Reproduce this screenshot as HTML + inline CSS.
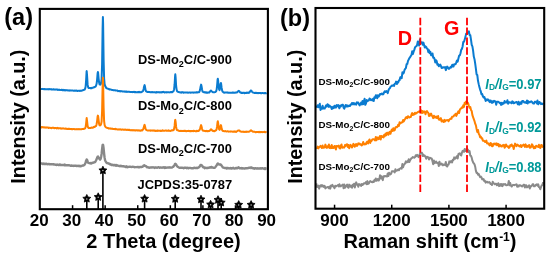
<!DOCTYPE html>
<html><head><meta charset="utf-8"><style>
html,body{margin:0;padding:0;background:#fff;width:550px;height:255px;overflow:hidden}
svg{display:block}
</style></head><body>
<svg width="550" height="255" viewBox="0 0 550 255" font-family="'Liberation Sans', Arial, sans-serif" font-weight="bold">
<rect width="550" height="255" fill="#fff"/>
<polyline points="40.6,88.92 41.1,88.99 41.6,88.93 42.1,88.87 42.6,88.96 43.1,88.9 43.6,89.08 44.1,89.3 44.6,89.05 45.1,89.06 45.6,89.25 46.1,89.25 46.6,89.24 47.1,89.11 47.6,89.27 48.1,89.4 48.6,89.12 49.1,89.28 49.6,89.09 50.1,89.21 50.6,89.15 51.1,89.41 51.6,89.28 52.1,89.54 52.6,89.55 53.1,89.52 53.6,89.19 54.1,89.52 54.6,89.61 55.1,89.66 55.6,89.44 56.1,89.62 56.6,89.57 57.1,89.62 57.6,89.93 58.1,89.67 58.6,89.81 59.1,89.97 59.6,89.78 60.1,89.87 60.6,89.93 61.1,89.95 61.6,89.78 62.1,90 62.6,90.22 63.1,89.82 63.6,90.21 64.1,90.12 64.6,90.04 65.1,90.47 65.6,90.31 66.1,90.05 66.6,90.27 67.1,90.38 67.6,90.29 68.1,90.45 68.6,90.37 69.1,90.51 69.6,90.66 70.1,90.37 70.6,90.53 71.1,90.46 71.6,90.57 72.1,90.4 72.6,90.52 73.1,90.6 73.6,90.78 74.1,90.84 74.6,90.49 75.1,90.59 75.6,90.82 76.1,90.44 76.6,90.68 77.1,90.75 77.6,90.96 78.1,90.88 78.6,90.73 79.1,90.72 79.6,90.74 80.1,91 80.6,90.69 81.1,90.69 81.6,90.73 82.1,90.56 82.6,90.41 83.1,90.1 83.6,90.05 84.1,89.73 84.6,89.59 85.1,88.82 85.6,86.72 86.1,80.55 86.6,71.41 86.7,71.15 87.1,76.19 87.6,84.4 88.1,87.09 88.6,88.04 89.1,87.93 89.6,87.93 90.1,88.17 90.6,88.03 91.1,88.11 91.6,88.32 92.1,87.75 92.6,87.66 93.1,87.64 93.6,87.51 94.1,87.23 94.6,87.01 95.1,86.88 95.6,86.48 96.1,85.53 96.6,83.82 97.1,79.61 97.6,73.5 97.9,71.98 98.1,72.54 98.6,78.24 99.1,82.6 99.6,84.45 100.1,84.68 100.6,84.34 101.1,82.84 101.6,79.07 102.1,64.23 102.6,29.33 102.9,17 103.1,22.96 103.6,59.26 104.1,78.34 104.6,84.09 105.1,85.89 105.6,86.66 106.1,87.74 106.6,88.24 107.1,88.36 107.6,88.6 108.1,88.84 108.6,88.91 109.1,89.39 109.6,89.29 110.1,89.49 110.6,89.5 111.1,89.63 111.6,89.63 112.1,90.1 112.6,89.97 113.1,90.22 113.6,90.15 114.1,90.13 114.6,90.26 115.1,90.31 115.6,90.48 116.1,90.52 116.6,90.62 117.1,90.56 117.6,90.73 118.1,91.19 118.6,90.93 119.1,90.95 119.6,91.23 120.1,91.45 120.6,91.08 121.1,91.32 121.6,91.3 122.1,91.18 122.6,91.59 123.1,91.52 123.6,91.57 124.1,91.48 124.6,91.7 125.1,91.58 125.6,91.66 126.1,91.55 126.6,91.56 127.1,91.97 127.6,91.72 128.1,91.86 128.6,91.84 129.1,91.8 129.6,91.81 130.1,92 130.6,91.88 131.1,91.92 131.6,91.97 132.1,92.16 132.6,92.1 133.1,92.07 133.6,91.94 134.1,91.83 134.6,92.18 135.1,92.2 135.6,92.04 136.1,92.15 136.6,92.19 137.1,92.2 137.6,92.22 138.1,92.01 138.6,92.3 139.1,91.89 139.6,92.19 140.1,92.12 140.6,92.15 141.1,92.27 141.6,92.14 142.1,91.64 142.6,91.31 143.1,91.01 143.6,89.06 144.1,86.5 144.5,85.36 144.6,85.08 145.1,87.32 145.6,90.1 146.1,91.29 146.6,91.7 147.1,91.93 147.6,91.89 148.1,91.86 148.6,92.1 149.1,92.02 149.6,91.94 150.1,92.28 150.6,92.21 151.1,92.29 151.6,92.1 152.1,92.15 152.6,92.11 153.1,92.13 153.6,92.3 154.1,92.16 154.6,92.34 155.1,92.34 155.6,92.6 156.1,92.09 156.6,92.43 157.1,92.29 157.6,92.3 158.1,92.09 158.6,92.24 159.1,92.42 159.6,92.3 160.1,92.33 160.6,92.27 161.1,92.49 161.6,92.31 162.1,91.99 162.6,92.21 163.1,92.02 163.6,91.83 164.1,92.24 164.6,92.52 165.1,92.32 165.6,92.14 166.1,92.17 166.6,92.48 167.1,92.33 167.6,92.31 168.1,92.28 168.6,92.29 169.1,92.39 169.6,92.34 170.1,92.27 170.6,92.05 171.1,92.24 171.6,92 172.1,92.17 172.6,91.67 173.1,91.59 173.6,91.08 174.1,89.21 174.6,84.47 175.1,76.02 175.3,74.36 175.6,77.4 176.1,85.72 176.6,89.57 177.1,91.31 177.6,91.71 178.1,91.97 178.6,91.94 179.1,92.15 179.6,92.23 180.1,92.48 180.6,92.39 181.1,92.37 181.6,92.62 182.1,92.33 182.6,92.37 183.1,92.17 183.6,92.69 184.1,92.62 184.6,92.62 185.1,92.59 185.6,92.51 186.1,92.54 186.6,92.48 187.1,92.49 187.6,92.53 188.1,92.76 188.6,92.62 189.1,92.53 189.6,92.45 190.1,92.45 190.6,92.79 191.1,92.62 191.6,92.56 192.1,92.5 192.6,92.38 193.1,92.54 193.6,92.67 194.1,92.48 194.6,92.5 195.1,92.49 195.6,92.53 196.1,92.26 196.6,92.44 197.1,92.31 197.6,92.53 198.1,92.21 198.6,92.29 199.1,92.19 199.6,91.28 200.1,89.6 200.6,86.74 201.1,84.62 201.6,86.56 202.1,89.76 202.6,91.64 203.1,91.93 203.6,92.18 204.1,92.17 204.6,92.45 205.1,92.26 205.6,92.31 206.1,92.68 206.6,92.36 207.1,92.66 207.6,92.72 208.1,92.51 208.6,92.52 209.1,92.63 209.6,92.06 210.1,91.48 210.6,90.66 211,90.57 211.1,90.8 211.6,91.27 212.1,91.63 212.6,92.01 213.1,92.21 213.6,92.36 214.1,92.26 214.6,92.25 215.1,92.13 215.6,91.81 216.1,91.34 216.6,89.8 217.1,85.5 217.6,79.47 217.8,78.72 218.1,80.43 218.6,86.38 219.1,89.42 219.6,90.13 220.1,87.77 220.6,83.88 220.9,82.98 221.1,83.63 221.6,87.7 222.1,90.39 222.6,91.69 223.1,92.02 223.6,92.4 224.1,92.75 224.6,92.52 225.1,92.42 225.6,92.4 226.1,92.6 226.6,92.6 227.1,92.48 227.6,92.68 228.1,92.51 228.6,92.86 229.1,92.86 229.6,92.87 230.1,92.65 230.6,92.8 231.1,92.71 231.6,92.68 232.1,92.69 232.6,92.55 233.1,92.53 233.6,92.86 234.1,92.71 234.6,92.76 235.1,92.87 235.6,92.43 236.1,92.53 236.6,92.57 237.1,92.35 237.6,91.77 238.1,91.35 238.6,90.87 239.1,91.02 239.6,91.71 240.1,92.44 240.6,92.65 241.1,92.41 241.6,92.95 242.1,92.87 242.6,93.01 243.1,92.76 243.6,92.79 244.1,92.67 244.6,93.23 245.1,92.83 245.6,93.09 246.1,92.76 246.6,92.88 247.1,92.59 247.6,92.77 248.1,92.94 248.6,92.54 249.1,92.73 249.6,92.26 250.1,91.41 250.6,90.71 251,90.41 251.1,90.5 251.6,91.02 252.1,91.76 252.6,92.38 253.1,92.55 253.6,92.63 254.1,92.88 254.6,93.06 255.1,92.73 255.6,92.98 256.1,92.9 256.6,92.86 257.1,93.15 257.6,92.96 258.1,93.27 258.6,92.94 259.1,93.12 259.6,93.04 260.1,92.97 260.6,93.18 261.1,93.08 261.6,93.2 262.1,93.11 262.6,92.96 263.1,93.12 263.6,93.15 264.1,93.29 264.6,93.02 265.1,93.15 265.6,92.91 266.1,93.27 266.6,93.02" fill="none" stroke="#0a7bd0" stroke-width="2.0" stroke-linejoin="round"/>
<polyline points="40.6,126.96 41.1,127.26 41.6,127.47 42.1,127.1 42.6,127.2 43.1,127.28 43.6,127.26 44.1,127.52 44.6,127.37 45.1,127.42 45.6,127.64 46.1,127.47 46.6,127.68 47.1,127.5 47.6,127.5 48.1,127.43 48.6,128.02 49.1,127.72 49.6,127.84 50.1,127.83 50.6,127.88 51.1,127.9 51.6,128.21 52.1,127.79 52.6,127.74 53.1,127.86 53.6,127.84 54.1,128.18 54.6,128.22 55.1,127.98 55.6,127.94 56.1,128.12 56.6,128.41 57.1,127.81 57.6,128.34 58.1,128.13 58.6,128.47 59.1,128.18 59.6,128.32 60.1,128.17 60.6,128.27 61.1,128.66 61.6,128.6 62.1,128.44 62.6,128.4 63.1,128.28 63.6,128.54 64.1,128.62 64.6,128.64 65.1,128.67 65.6,128.55 66.1,128.74 66.6,128.78 67.1,129.01 67.6,129.12 68.1,128.85 68.6,128.79 69.1,128.92 69.6,128.87 70.1,128.88 70.6,129.01 71.1,128.89 71.6,129.17 72.1,129.09 72.6,129.16 73.1,129.12 73.6,129.06 74.1,129.05 74.6,129.18 75.1,129.15 75.6,129.29 76.1,129.27 76.6,129.08 77.1,129.3 77.6,129.1 78.1,129.22 78.6,129.27 79.1,129.01 79.6,129.33 80.1,129.34 80.6,129.29 81.1,129.23 81.6,129.21 82.1,129.08 82.6,129.12 83.1,129 83.6,128.99 84.1,128.67 84.6,128.68 85.1,128.29 85.6,127.13 86.1,123.54 86.6,118.59 86.7,118 87.1,121.27 87.6,125.85 88.1,127.53 88.6,127.93 89.1,127.87 89.6,127.93 90.1,128.03 90.6,127.93 91.1,127.82 91.6,127.47 92.1,127.69 92.6,127.67 93.1,127.52 93.6,127.26 94.1,126.83 94.6,127.03 95.1,126.66 95.6,126.02 96.1,125.92 96.6,124.24 97.1,121.05 97.6,116.62 97.9,115.61 98.1,115.93 98.6,120.22 99.1,123.91 99.6,125.35 100.1,125.4 100.6,125.13 101.1,124.13 101.6,121.48 102.1,111.03 102.6,86.7 102.9,77.66 103.1,82.25 103.6,107.28 104.1,120.99 104.6,124.98 105.1,126.29 105.6,127.07 106.1,127.42 106.6,127.63 107.1,127.96 107.6,127.93 108.1,127.98 108.6,128.43 109.1,128.44 109.6,128.59 110.1,128.36 110.6,128.63 111.1,128.66 111.6,128.68 112.1,128.53 112.6,128.86 113.1,129.09 113.6,129.06 114.1,128.95 114.6,129.07 115.1,129.22 115.6,128.73 116.1,129.16 116.6,129.29 117.1,129.34 117.6,129.52 118.1,129.46 118.6,129.36 119.1,129.39 119.6,129.49 120.1,129.32 120.6,129.42 121.1,129.58 121.6,129.77 122.1,129.48 122.6,129.52 123.1,129.58 123.6,129.78 124.1,129.61 124.6,129.86 125.1,129.53 125.6,129.68 126.1,129.71 126.6,129.9 127.1,129.98 127.6,129.64 128.1,129.77 128.6,130 129.1,129.89 129.6,129.81 130.1,130.23 130.6,130.19 131.1,130.23 131.6,130.12 132.1,130.38 132.6,130.23 133.1,130.46 133.6,130.18 134.1,130.21 134.6,130.38 135.1,130.26 135.6,130.47 136.1,130.42 136.6,130.25 137.1,130.41 137.6,130.35 138.1,130.54 138.6,130.31 139.1,130.34 139.6,130.58 140.1,130.72 140.6,130.67 141.1,130.35 141.6,130.33 142.1,130.44 142.6,130 143.1,129.34 143.6,128.19 144.1,126.11 144.5,124.93 144.6,124.88 145.1,126.73 145.6,128.95 146.1,129.7 146.6,130.15 147.1,130.35 147.6,130.49 148.1,130.4 148.6,130.56 149.1,130.38 149.6,130.48 150.1,130.4 150.6,130.74 151.1,130.57 151.6,130.48 152.1,130.54 152.6,130.57 153.1,130.72 153.6,130.38 154.1,130.47 154.6,130.57 155.1,131.02 155.6,130.78 156.1,130.63 156.6,130.76 157.1,130.96 157.6,130.62 158.1,130.61 158.6,130.85 159.1,130.75 159.6,130.78 160.1,130.6 160.6,130.97 161.1,130.94 161.6,130.77 162.1,130.8 162.6,130.39 163.1,130.8 163.6,130.67 164.1,130.77 164.6,130.81 165.1,130.66 165.6,130.46 166.1,130.77 166.6,130.61 167.1,130.67 167.6,130.63 168.1,130.67 168.6,130.37 169.1,130.89 169.6,130.74 170.1,130.86 170.6,130.98 171.1,130.66 171.6,130.36 172.1,130.44 172.6,130.31 173.1,130.26 173.6,130.03 174.1,128.7 174.6,125.88 175.1,120.46 175.3,119.9 175.6,121.58 176.1,126.68 176.6,129.34 177.1,130.07 177.6,130.34 178.1,130.33 178.6,130.66 179.1,131.01 179.6,131.07 180.1,131 180.6,130.94 181.1,130.75 181.6,131.08 182.1,130.88 182.6,130.89 183.1,130.87 183.6,130.93 184.1,130.86 184.6,130.93 185.1,130.79 185.6,130.9 186.1,131.31 186.6,130.96 187.1,130.94 187.6,131.07 188.1,131.1 188.6,130.83 189.1,130.98 189.6,131.15 190.1,131.06 190.6,131.04 191.1,131.26 191.6,130.93 192.1,131.05 192.6,130.96 193.1,131.27 193.6,130.75 194.1,130.95 194.6,130.97 195.1,131.15 195.6,131.13 196.1,131.24 196.6,130.79 197.1,131.12 197.6,130.93 198.1,130.82 198.6,130.92 199.1,130.53 199.6,129.88 200.1,128.91 200.6,126.51 201.1,125.08 201.6,126.8 202.1,129.03 202.6,130.46 203.1,130.67 203.6,130.66 204.1,130.87 204.6,130.9 205.1,130.9 205.6,131.17 206.1,131.03 206.6,130.84 207.1,131.24 207.6,131.12 208.1,131.17 208.6,131.1 209.1,131.08 209.6,130.75 210.1,130.42 210.6,129.6 211,129.3 211.1,129.32 211.6,129.6 212.1,130.45 212.6,130.82 213.1,131.04 213.6,130.86 214.1,131.3 214.6,131.03 215.1,130.76 215.6,130.53 216.1,130.38 216.6,129.29 217.1,126.17 217.6,121.93 217.8,121.15 218.1,122.69 218.6,126.82 219.1,129.31 219.6,129.82 220.1,128.84 220.6,125.81 220.9,125.12 221.1,125.49 221.6,128.4 222.1,129.97 222.6,130.77 223.1,131.08 223.6,131.06 224.1,131.14 224.6,131.27 225.1,131.06 225.6,131.19 226.1,131.37 226.6,131.48 227.1,131.44 227.6,131.22 228.1,131.43 228.6,131.63 229.1,131.61 229.6,131.52 230.1,131.41 230.6,131.65 231.1,131.47 231.6,131.39 232.1,131.45 232.6,131.8 233.1,131.62 233.6,131.76 234.1,131.52 234.6,131.73 235.1,131.49 235.6,131.54 236.1,131.91 236.6,131.57 237.1,131.2 237.6,130.92 238.1,130.51 238.6,130.38 239.1,130.4 239.6,130.7 240.1,131.28 240.6,131.52 241.1,131.62 241.6,131.85 242.1,131.73 242.6,131.82 243.1,131.55 243.6,131.86 244.1,132.05 244.6,131.86 245.1,131.79 245.6,131.78 246.1,132.03 246.6,131.62 247.1,131.74 247.6,131.82 248.1,131.85 248.6,131.63 249.1,131.65 249.6,131.36 250.1,131.03 250.6,130.53 251,130.2 251.1,130.38 251.6,130.88 252.1,131.08 252.6,131.51 253.1,131.82 253.6,131.64 254.1,131.86 254.6,131.7 255.1,132.05 255.6,132.25 256.1,132.22 256.6,131.89 257.1,132.05 257.6,131.96 258.1,131.97 258.6,132.2 259.1,131.78 259.6,132.14 260.1,131.98 260.6,132.21 261.1,132.03 261.6,131.91 262.1,132.06 262.6,132.14 263.1,132.04 263.6,132.12 264.1,131.97 264.6,131.74 265.1,132.2 265.6,132.18 266.1,132.1 266.6,132.1" fill="none" stroke="#ff8000" stroke-width="2.0" stroke-linejoin="round"/>
<polyline points="40.6,163.74 41.1,163.48 41.6,163.46 42.1,163.6 42.6,163.91 43.1,163.43 43.6,163.98 44.1,163.64 44.6,163.58 45.1,164.09 45.6,163.85 46.1,163.64 46.6,163.86 47.1,164.16 47.6,164.24 48.1,163.95 48.6,164.15 49.1,164.24 49.6,164 50.1,164.24 50.6,164.19 51.1,164.12 51.6,164.16 52.1,164.31 52.6,164.33 53.1,164.24 53.6,164.3 54.1,164.64 54.6,164.49 55.1,164.66 55.6,164.75 56.1,164.66 56.6,165.03 57.1,164.44 57.6,164.8 58.1,164.6 58.6,165.07 59.1,165.07 59.6,164.37 60.1,164.59 60.6,164.95 61.1,165.01 61.6,165.03 62.1,164.9 62.6,165.04 63.1,165.12 63.6,165.01 64.1,165.26 64.6,164.64 65.1,165.26 65.6,164.96 66.1,165.4 66.6,165.2 67.1,165.1 67.6,165.39 68.1,165.17 68.6,165.21 69.1,165.11 69.6,165.46 70.1,165.6 70.6,165.74 71.1,165.54 71.6,165.81 72.1,165.63 72.6,165.64 73.1,165.8 73.6,165.93 74.1,165.67 74.6,165.72 75.1,165.76 75.6,165.83 76.1,165.65 76.6,166.05 77.1,165.78 77.6,165.96 78.1,165.72 78.6,165.96 79.1,165.97 79.6,165.81 80.1,166.29 80.6,165.95 81.1,166.22 81.6,166.01 82.1,165.61 82.6,165.56 83.1,165.59 83.6,165.36 84.1,165.14 84.6,164.71 85.1,163.71 85.6,162.79 86.1,160.64 86.6,159.78 86.7,159.48 87.1,159.94 87.6,161.45 88.1,162.69 88.6,162.94 89.1,163.07 89.6,163.23 90.1,162.98 90.6,163.12 91.1,163.53 91.6,162.9 92.1,163.13 92.6,162.59 93.1,162.77 93.6,162.47 94.1,162.33 94.6,162.21 95.1,162.1 95.6,161.26 96.1,160.45 96.6,159.11 97.1,158.07 97.6,156.78 97.9,156.72 98.1,156.59 98.6,157.7 99.1,158.03 99.6,159.18 100.1,159.67 100.6,158.87 101.1,157.05 101.6,153.88 102.1,149.03 102.6,145.09 102.9,144.69 103.1,144.92 103.6,148.51 104.1,153.61 104.6,157.63 105.1,160.35 105.6,161.32 106.1,162.07 106.6,162.83 107.1,163.17 107.6,163.19 108.1,163.29 108.6,163.42 109.1,163.79 109.6,163.67 110.1,164.44 110.6,164.31 111.1,164.68 111.6,165.08 112.1,165.04 112.6,164.67 113.1,165.17 113.6,165.32 114.1,165.02 114.6,165.06 115.1,165.31 115.6,165.09 116.1,165.78 116.6,165.08 117.1,165.42 117.6,165.66 118.1,165.73 118.6,165.88 119.1,165.96 119.6,165.93 120.1,166.26 120.6,165.67 121.1,166.15 121.6,166.07 122.1,166.29 122.6,166.36 123.1,166.18 123.6,166.29 124.1,166.62 124.6,166.58 125.1,166.41 125.6,167 126.1,167.09 126.6,166.37 127.1,166.76 127.6,167.23 128.1,166.92 128.6,166.84 129.1,166.77 129.6,166.73 130.1,166.82 130.6,166.77 131.1,167.05 131.6,166.84 132.1,166.85 132.6,166.72 133.1,166.96 133.6,166.81 134.1,166.97 134.6,167.23 135.1,167.11 135.6,167.15 136.1,167.14 136.6,167.09 137.1,167.06 137.6,167.04 138.1,167.26 138.6,166.9 139.1,167.39 139.6,167.12 140.1,166.96 140.6,166.99 141.1,166.91 141.6,167 142.1,166.69 142.6,166.84 143.1,166.17 143.6,165.54 144.1,165.57 144.5,165.24 144.6,165.64 145.1,166.05 145.6,166.31 146.1,166.26 146.6,166.66 147.1,167.38 147.6,167.22 148.1,167.24 148.6,167.51 149.1,167.83 149.6,167.63 150.1,167.42 150.6,167.48 151.1,167.55 151.6,167.32 152.1,167.25 152.6,167.48 153.1,167.3 153.6,167.49 154.1,167.53 154.6,167.99 155.1,167.36 155.6,167.52 156.1,167.52 156.6,167.65 157.1,167.78 157.6,167.48 158.1,167.42 158.6,167.26 159.1,167.41 159.6,167.71 160.1,167.62 160.6,167.42 161.1,167.55 161.6,167.64 162.1,167.74 162.6,167.53 163.1,167.6 163.6,167.29 164.1,167.43 164.6,167.99 165.1,167.23 165.6,167.6 166.1,167.71 166.6,167.6 167.1,167.51 167.6,167.66 168.1,167.66 168.6,167.64 169.1,167.27 169.6,167.6 170.1,167.44 170.6,167.48 171.1,167.59 171.6,167.6 172.1,167.52 172.6,167.01 173.1,166.91 173.6,166.36 174.1,165.57 174.6,164.77 175.1,163.88 175.3,163.82 175.6,164.16 176.1,164.4 176.6,165.59 177.1,166.2 177.6,166.8 178.1,166.89 178.6,167.28 179.1,167.58 179.6,167.84 180.1,167.91 180.6,167.74 181.1,167.75 181.6,167.64 182.1,167.91 182.6,167.8 183.1,167.99 183.6,168.23 184.1,167.89 184.6,167.6 185.1,167.74 185.6,167.63 186.1,167.69 186.6,168.2 187.1,167.99 187.6,167.65 188.1,168.09 188.6,168.22 189.1,167.9 189.6,167.84 190.1,167.91 190.6,168.04 191.1,168.11 191.6,168.22 192.1,168.23 192.6,168.22 193.1,168.26 193.6,168.11 194.1,167.67 194.6,167.94 195.1,168.02 195.6,167.87 196.1,168.1 196.6,167.82 197.1,167.66 197.6,168.04 198.1,167.74 198.6,167.41 199.1,167.19 199.6,166.7 200.1,165.96 200.6,164.85 201.1,164.98 201.6,165.26 202.1,165.7 202.6,166.54 203.1,167.25 203.6,167.29 204.1,167.41 204.6,168.19 205.1,167.78 205.6,167.67 206.1,167.99 206.6,168.04 207.1,167.82 207.6,168.1 208.1,167.81 208.6,167.65 209.1,167.74 209.6,167.68 210.1,167.18 210.6,167.18 211,167.03 211.1,167.62 211.6,167.02 212.1,167.62 212.6,167.51 213.1,167.62 213.6,167.84 214.1,167.84 214.6,167.8 215.1,167.36 215.6,166.73 216.1,166.06 216.6,165.35 217.1,164.35 217.6,163.78 217.8,163.46 218.1,163.64 218.6,164.23 219.1,164.52 219.6,164.48 220.1,164.53 220.6,164.38 220.9,165.04 221.1,164.68 221.6,165.68 222.1,166.28 222.6,167.16 223.1,167.51 223.6,167.62 224.1,167.8 224.6,167.98 225.1,168.08 225.6,167.99 226.1,168.13 226.6,168.49 227.1,167.86 227.6,168.27 228.1,168.06 228.6,168.29 229.1,168.43 229.6,168.27 230.1,168.44 230.6,167.98 231.1,168.52 231.6,168.19 232.1,168.44 232.6,168.35 233.1,167.8 233.6,168.16 234.1,168.35 234.6,168.6 235.1,168.32 235.6,168.27 236.1,167.87 236.6,168.33 237.1,168.28 237.6,167.79 238.1,167.62 238.6,167.29 239.1,167.85 239.6,168.34 240.1,168.09 240.6,168.33 241.1,168.3 241.6,168.07 242.1,168.59 242.6,168.11 243.1,168.33 243.6,168.44 244.1,168.57 244.6,168.49 245.1,168.48 245.6,168.26 246.1,168.15 246.6,168.41 247.1,168.24 247.6,168.09 248.1,168.05 248.6,168.12 249.1,167.75 249.6,167.71 250.1,167.52 250.6,167.77 251,167.79 251.1,168.11 251.6,167.48 252.1,167.78 252.6,168.25 253.1,168.15 253.6,168.23 254.1,168.71 254.6,168.35 255.1,168.22 255.6,168.21 256.1,168.56 256.6,168.56 257.1,168.23 257.6,168.32 258.1,168.63 258.6,168.64 259.1,168.41 259.6,168.66 260.1,168.66 260.6,168.19 261.1,168.49 261.6,168.64 262.1,168.44 262.6,168.13 263.1,168.51 263.6,168.72 264.1,168.89 264.6,168.14 265.1,169.1 265.6,168.35 266.1,168.77 266.6,168.83" fill="none" stroke="#888888" stroke-width="2.4" stroke-linejoin="round"/>
<line x1="86.8" y1="198.7" x2="86.8" y2="209.2" stroke="#000" stroke-width="1.6"/>
<line x1="98.2" y1="197" x2="98.2" y2="209.2" stroke="#000" stroke-width="1.6"/>
<line x1="102.9" y1="170.4" x2="102.9" y2="209.2" stroke="#000" stroke-width="1.6"/>
<line x1="144.6" y1="198.7" x2="144.6" y2="209.2" stroke="#000" stroke-width="1.6"/>
<line x1="175.2" y1="198.9" x2="175.2" y2="209.2" stroke="#000" stroke-width="1.6"/>
<line x1="201" y1="199.4" x2="201" y2="209.2" stroke="#000" stroke-width="1.6"/>
<line x1="210.6" y1="204.5" x2="210.6" y2="209.2" stroke="#000" stroke-width="1.6"/>
<line x1="218" y1="199.9" x2="218" y2="209.2" stroke="#000" stroke-width="1.6"/>
<line x1="221.2" y1="202.6" x2="221.2" y2="209.2" stroke="#000" stroke-width="1.6"/>
<line x1="238.7" y1="204.8" x2="238.7" y2="209.2" stroke="#000" stroke-width="1.6"/>
<line x1="251.1" y1="204.8" x2="251.1" y2="209.2" stroke="#000" stroke-width="1.6"/>
<path d="M86.8,194.5 L88.03,197 L90.79,197.4 L88.8,199.35 L89.27,202.1 L86.8,200.8 L84.33,202.1 L84.8,199.35 L82.81,197.4 L85.57,197 Z" fill="#000" stroke="#000" stroke-width="0.8" stroke-linejoin="miter"/>
<circle cx="86.8" cy="198.9" r="0.75" fill="#fff" fill-opacity="0.75"/>
<path d="M98.2,192.8 L99.43,195.3 L102.19,195.7 L100.2,197.65 L100.67,200.4 L98.2,199.1 L95.73,200.4 L96.2,197.65 L94.21,195.7 L96.97,195.3 Z" fill="#000" stroke="#000" stroke-width="0.8" stroke-linejoin="miter"/>
<circle cx="98.2" cy="197.2" r="0.75" fill="#fff" fill-opacity="0.75"/>
<path d="M102.9,166.2 L104.13,168.7 L106.89,169.1 L104.9,171.05 L105.37,173.8 L102.9,172.5 L100.43,173.8 L100.9,171.05 L98.91,169.1 L101.67,168.7 Z" fill="#000" stroke="#000" stroke-width="0.8" stroke-linejoin="miter"/>
<circle cx="102.9" cy="170.6" r="0.75" fill="#fff" fill-opacity="0.75"/>
<path d="M144.6,194.5 L145.83,197 L148.59,197.4 L146.6,199.35 L147.07,202.1 L144.6,200.8 L142.13,202.1 L142.6,199.35 L140.61,197.4 L143.37,197 Z" fill="#000" stroke="#000" stroke-width="0.8" stroke-linejoin="miter"/>
<circle cx="144.6" cy="198.9" r="0.75" fill="#fff" fill-opacity="0.75"/>
<path d="M175.2,194.7 L176.43,197.2 L179.19,197.6 L177.2,199.55 L177.67,202.3 L175.2,201 L172.73,202.3 L173.2,199.55 L171.21,197.6 L173.97,197.2 Z" fill="#000" stroke="#000" stroke-width="0.8" stroke-linejoin="miter"/>
<circle cx="175.2" cy="199.1" r="0.75" fill="#fff" fill-opacity="0.75"/>
<path d="M201,195.2 L202.23,197.7 L204.99,198.1 L203,200.05 L203.47,202.8 L201,201.5 L198.53,202.8 L199,200.05 L197.01,198.1 L199.77,197.7 Z" fill="#000" stroke="#000" stroke-width="0.8" stroke-linejoin="miter"/>
<circle cx="201" cy="199.6" r="0.75" fill="#fff" fill-opacity="0.75"/>
<path d="M210.6,200.3 L211.83,202.8 L214.59,203.2 L212.6,205.15 L213.07,207.9 L210.6,206.6 L208.13,207.9 L208.6,205.15 L206.61,203.2 L209.37,202.8 Z" fill="#000" stroke="#000" stroke-width="0.8" stroke-linejoin="miter"/>
<circle cx="210.6" cy="204.7" r="0.75" fill="#fff" fill-opacity="0.75"/>
<path d="M218,195.7 L219.23,198.2 L221.99,198.6 L220,200.55 L220.47,203.3 L218,202 L215.53,203.3 L216,200.55 L214.01,198.6 L216.77,198.2 Z" fill="#000" stroke="#000" stroke-width="0.8" stroke-linejoin="miter"/>
<circle cx="218" cy="200.1" r="0.75" fill="#fff" fill-opacity="0.75"/>
<path d="M221.2,198.4 L222.43,200.9 L225.19,201.3 L223.2,203.25 L223.67,206 L221.2,204.7 L218.73,206 L219.2,203.25 L217.21,201.3 L219.97,200.9 Z" fill="#000" stroke="#000" stroke-width="0.8" stroke-linejoin="miter"/>
<circle cx="221.2" cy="202.8" r="0.75" fill="#fff" fill-opacity="0.75"/>
<path d="M238.7,200.6 L239.93,203.1 L242.69,203.5 L240.7,205.45 L241.17,208.2 L238.7,206.9 L236.23,208.2 L236.7,205.45 L234.71,203.5 L237.47,203.1 Z" fill="#000" stroke="#000" stroke-width="0.8" stroke-linejoin="miter"/>
<circle cx="238.7" cy="205" r="0.75" fill="#fff" fill-opacity="0.75"/>
<path d="M251.1,200.6 L252.33,203.1 L255.09,203.5 L253.1,205.45 L253.57,208.2 L251.1,206.9 L248.63,208.2 L249.1,205.45 L247.11,203.5 L249.87,203.1 Z" fill="#000" stroke="#000" stroke-width="0.8" stroke-linejoin="miter"/>
<circle cx="251.1" cy="205" r="0.75" fill="#fff" fill-opacity="0.75"/>
<rect x="39.8" y="8.9" width="228.1" height="200.3" fill="none" stroke="#000" stroke-width="2.1"/>
<line x1="72.58" y1="209.2" x2="72.58" y2="205.2" stroke="#000" stroke-width="1.5"/>
<line x1="105.16" y1="209.2" x2="105.16" y2="205.2" stroke="#000" stroke-width="1.5"/>
<line x1="137.74" y1="209.2" x2="137.74" y2="205.2" stroke="#000" stroke-width="1.5"/>
<line x1="170.32" y1="209.2" x2="170.32" y2="205.2" stroke="#000" stroke-width="1.5"/>
<line x1="202.9" y1="209.2" x2="202.9" y2="205.2" stroke="#000" stroke-width="1.5"/>
<line x1="235.48" y1="209.2" x2="235.48" y2="205.2" stroke="#000" stroke-width="1.5"/>
<text x="39.3" y="225.6" font-size="17" text-anchor="middle">20</text>
<text x="71.77" y="225.6" font-size="17" text-anchor="middle">30</text>
<text x="104.24" y="225.6" font-size="17" text-anchor="middle">40</text>
<text x="136.71" y="225.6" font-size="17" text-anchor="middle">50</text>
<text x="169.18" y="225.6" font-size="17" text-anchor="middle">60</text>
<text x="201.65" y="225.6" font-size="17" text-anchor="middle">70</text>
<text x="234.12" y="225.6" font-size="17" text-anchor="middle">80</text>
<text x="266.59" y="225.6" font-size="17" text-anchor="middle">90</text>
<text x="4.3" y="25.2" font-size="23.5">(a)</text>
<text x="163.5" y="247.5" font-size="20" text-anchor="middle">2 Theta (degree)</text>
<text transform="translate(25.2,116.6) rotate(-90)" font-size="19.8" text-anchor="middle">Intensity (a.u.)</text>
<text x="138" y="64.2" font-size="12.9">DS-Mo<tspan font-size="9.03" dy="3.23">2</tspan><tspan dy="-3.23">C/C-900</tspan></text>
<text x="138" y="110.4" font-size="12.9">DS-Mo<tspan font-size="9.03" dy="3.23">2</tspan><tspan dy="-3.23">C/C-800</tspan></text>
<text x="138" y="152.9" font-size="12.9">DS-Mo<tspan font-size="9.03" dy="3.23">2</tspan><tspan dy="-3.23">C/C-700</tspan></text>
<text x="137.5" y="188.5" font-size="12.9">JCPDS:35-0787</text>
<polyline points="316.3,107.58 317,106.66 317.7,105.2 318.4,107.29 319.1,105.78 319.8,103.73 320.5,109.91 321.2,107.5 321.9,108.79 322.6,105.67 323.3,108.43 324,108.58 324.7,108.55 325.4,106.75 326.1,105.4 326.8,106.58 327.5,104.26 328.2,104.84 328.9,106.9 329.6,105.66 330.3,106.61 331,106.66 331.7,109 332.4,108.25 333.1,106.69 333.8,108.1 334.5,105.79 335.2,106.26 335.9,107.66 336.6,105.14 337.3,106.21 338,104.96 338.7,106.56 339.4,108.25 340.1,105.46 340.8,106.52 341.5,105.17 342.2,104.82 342.9,104.66 343.6,107.7 344.3,108.68 345,106.45 345.7,105 346.4,106.56 347.1,105.29 347.8,106.51 348.5,105.83 349.2,105.72 349.9,106 350.6,104.52 351.3,104.61 352,102.98 352.7,104.32 353.4,103.07 354.1,104.4 354.8,103.33 355.5,104.41 356.2,104.67 356.9,102.36 357.6,102.91 358.3,102.6 359,104.39 359.7,105.33 360.4,104.17 361.1,102.61 361.8,104.51 362.5,100.89 363.2,104.14 363.9,101.45 364.6,98.78 365.3,104.79 366,103.31 366.7,100.05 367.4,101.17 368.1,100.47 368.8,100.56 369.5,98.45 370.2,99.09 370.9,100.12 371.6,99.54 372.3,100.37 373,98.78 373.7,101.08 374.4,97.24 375.1,98.04 375.8,95.22 376.5,95.65 377.2,98.27 377.9,95.31 378.6,96.64 379.3,95.58 380,94.06 380.7,94.47 381.4,93.87 382.1,93.48 382.8,94.48 383.5,93.92 384.2,92.05 384.9,91.19 385.6,92.06 386.3,91.1 387,91.85 387.7,93.15 388.4,90.5 389.1,88.91 389.8,88.19 390.5,86.84 391.2,86.25 391.9,85.6 392.6,85.75 393.3,85.16 394,85.91 394.7,83.96 395.4,83.51 396.1,81.6 396.8,84.1 397.5,81.95 398.2,82.53 398.9,80.44 399.6,80.22 400.3,77.14 401,77.09 401.7,78.14 402.4,72.31 403.1,73.7 403.8,72.89 404.5,69.99 405.2,68.92 405.9,68.01 406.6,64.24 407.3,63.94 408,60.87 408.7,59.55 409.4,58.09 410.1,57.15 410.8,56.02 411.5,54.92 412.2,51.3 412.9,53.92 413.6,51.63 414.3,49.88 415,47.42 415.7,46.58 416.4,46.22 417.1,44.99 417.8,41.55 418.5,43.58 419.2,45.54 419.9,39.6 420.6,42.91 421.3,42.42 422,42.36 422.7,44.8 423.4,42.6 424.1,45.05 424.8,47.46 425.5,46.38 426.2,47 426.9,48.54 427.6,48.82 428.3,52.14 429,50.22 429.7,53.33 430.4,51.86 431.1,55.2 431.8,55.37 432.5,53.54 433.2,57.67 433.9,57.45 434.6,59.17 435.3,62.44 436,60.17 436.7,61.06 437.4,64.8 438.1,63.95 438.8,66.29 439.5,65.44 440.2,64.53 440.9,65.96 441.6,67.91 442.3,67.95 443,67.16 443.7,67.48 444.4,67.48 445.1,67.06 445.8,70.11 446.5,67.89 447.2,66.59 447.9,67.39 448.6,68.82 449.3,68.7 450,67.7 450.7,66.89 451.4,67.41 452.1,64.97 452.8,64.83 453.5,66.59 454.2,64.23 454.9,64.29 455.6,64.24 456.3,62.43 457,60.45 457.7,61.61 458.4,58.45 459.1,55.72 459.8,55.38 460.5,53.23 461.2,49.84 461.9,48.89 462.6,46.43 463.3,42.01 464,41.81 464.7,39.43 465.4,37.16 466.1,33.85 466.8,33.76 467.5,32.88 468.2,32.47 468.9,31.4 469.6,34.99 470.3,35.27 471,39.57 471.7,44.92 472.4,46.37 473.1,50.58 473.8,56.59 474.5,59.14 475.2,63.66 475.9,68.85 476.6,74.45 477.3,75.08 478,80.81 478.7,84.13 479.4,86.95 480.1,89.56 480.8,91.44 481.5,94.29 482.2,94.11 482.9,96.34 483.6,97.56 484.3,96.99 485,98.65 485.7,100.99 486.4,99.94 487.1,99.26 487.8,100.32 488.5,99.65 489.2,101.32 489.9,102.23 490.6,100.43 491.3,101.3 492,102.98 492.7,101.2 493.4,102.12 494.1,100.79 494.8,101.12 495.5,101.56 496.2,104.74 496.9,101.83 497.6,101.75 498.3,101.76 499,102.26 499.7,103.24 500.4,102.73 501.1,104.91 501.8,102.81 502.5,104.25 503.2,102.93 503.9,103.33 504.6,100.99 505.3,102.53 506,102.62 506.7,102.43 507.4,100.26 508.1,103.76 508.8,102.32 509.5,102.28 510.2,102.5 510.9,102.55 511.6,103.29 512.3,101.37 513,101.77 513.7,103.19 514.4,103.03 515.1,102.44 515.8,102.22 516.5,101.93 517.2,102.82 517.9,104.25 518.6,101.68 519.3,104.65 520,103.87 520.7,102.38 521.4,103.8 522.1,101.21 522.8,100.91 523.5,101.42 524.2,102.43 524.9,102.53 525.6,102.31 526.3,103.01 527,100.44 527.7,103.47 528.4,101.27 529.1,102.14 529.8,102.43 530.5,101.57 531.2,101.32 531.9,101.74 532.6,102.89 533.3,103.58 534,103.55 534.7,101.76 535.4,101.99 536.1,101.84 536.8,103.42 537.5,100.56 538.2,104.32 538.9,102.34 539.6,102 540.3,103.29 541,104.09 541.7,103.29 542.4,104.11 543.1,103.05" fill="none" stroke="#0a7bd0" stroke-width="2.0" stroke-linejoin="round"/>
<polyline points="316.3,147.99 317,148.08 317.7,146.59 318.4,148.42 319.1,147.01 319.8,146.97 320.5,145.86 321.2,146.63 321.9,147.89 322.6,145.52 323.3,147.81 324,147.49 324.7,147.44 325.4,144.6 326.1,147.04 326.8,147.91 327.5,146.3 328.2,147.29 328.9,144.46 329.6,147.97 330.3,146.43 331,148.18 331.7,145.05 332.4,147.94 333.1,146.84 333.8,148.01 334.5,145.98 335.2,146.28 335.9,149.52 336.6,145.93 337.3,146.02 338,146.45 338.7,145.53 339.4,148.01 340.1,148.56 340.8,145.69 341.5,144.45 342.2,147.71 342.9,147.57 343.6,147.18 344.3,147.5 345,145.1 345.7,145.84 346.4,144.38 347.1,144.28 347.8,146.98 348.5,145.01 349.2,148.34 349.9,145.74 350.6,144.85 351.3,146.43 352,147.51 352.7,145.92 353.4,143.89 354.1,145.63 354.8,146.71 355.5,144.47 356.2,144.06 356.9,146.03 357.6,144.92 358.3,143.39 359,144.12 359.7,143.57 360.4,144.66 361.1,144.32 361.8,145.38 362.5,144.73 363.2,141.95 363.9,144.05 364.6,144.44 365.3,143.75 366,144.22 366.7,142.2 367.4,141.53 368.1,143.48 368.8,140.96 369.5,139.48 370.2,142.91 370.9,140.66 371.6,140.89 372.3,139.39 373,139.22 373.7,139.15 374.4,139.8 375.1,140.37 375.8,137.03 376.5,140.24 377.2,137.71 377.9,137.52 378.6,139.19 379.3,137.98 380,135.94 380.7,139.46 381.4,135.97 382.1,136.85 382.8,136.4 383.5,137.39 384.2,134.84 384.9,136.1 385.6,133.64 386.3,135.33 387,132.69 387.7,132.66 388.4,134.77 389.1,132.48 389.8,131.79 390.5,133.81 391.2,131.23 391.9,129.48 392.6,130.88 393.3,128.27 394,130.5 394.7,130.13 395.4,127.59 396.1,126.98 396.8,127.32 397.5,126.51 398.2,124.74 398.9,125.87 399.6,122.22 400.3,123.43 401,122.83 401.7,122.34 402.4,122.37 403.1,119.97 403.8,121.43 404.5,119.94 405.2,118.8 405.9,117.39 406.6,117.03 407.3,118.25 408,116.18 408.7,116.83 409.4,117.46 410.1,116.93 410.8,117.05 411.5,114.44 412.2,113.07 412.9,115.05 413.6,113.82 414.3,114.37 415,112.74 415.7,113.76 416.4,113.05 417.1,112.6 417.8,112.08 418.5,111.74 419.2,111.38 419.9,111.28 420.6,112.13 421.3,110.43 422,113.11 422.7,111.12 423.4,112.53 424.1,111.47 424.8,111.49 425.5,114.34 426.2,111.9 426.9,111.08 427.6,112.05 428.3,112.85 429,116.06 429.7,114.19 430.4,115.42 431.1,113.6 431.8,115.57 432.5,116.37 433.2,118.1 433.9,115.65 434.6,117.55 435.3,117.59 436,116.44 436.7,117.94 437.4,118 438.1,115.95 438.8,119.61 439.5,119.82 440.2,118.94 440.9,118.14 441.6,121.61 442.3,120.41 443,121.45 443.7,122.03 444.4,119.9 445.1,121.45 445.8,120.21 446.5,120.33 447.2,120.16 447.9,120.08 448.6,121.15 449.3,119.75 450,119.12 450.7,118.59 451.4,118.82 452.1,116.83 452.8,116.64 453.5,116.47 454.2,115.17 454.9,114.97 455.6,113.68 456.3,115.95 457,114.42 457.7,112.64 458.4,111.27 459.1,113.05 459.8,110.07 460.5,108.74 461.2,108.3 461.9,107.4 462.6,107.76 463.3,105.24 464,106.85 464.7,102.67 465.4,103.85 466.1,101.45 466.8,104.56 467.5,102.38 468.2,103.48 468.9,105.83 469.6,107.79 470.3,106.95 471,109.95 471.7,111.03 472.4,115.13 473.1,117.19 473.8,119.21 474.5,121.09 475.2,123.66 475.9,125.42 476.6,128.99 477.3,132.1 478,129.96 478.7,133.69 479.4,134.82 480.1,137.15 480.8,136.59 481.5,138.43 482.2,138.16 482.9,140.81 483.6,140.7 484.3,140.91 485,142 485.7,141.74 486.4,140.66 487.1,143.53 487.8,143.53 488.5,143.35 489.2,144.93 489.9,145.42 490.6,142.95 491.3,143.47 492,146.29 492.7,146.28 493.4,143.92 494.1,143.52 494.8,144.25 495.5,144.51 496.2,143.35 496.9,145.28 497.6,143.84 498.3,143.98 499,146.48 499.7,144.69 500.4,145.43 501.1,146.28 501.8,146.52 502.5,145.23 503.2,145.7 503.9,144.73 504.6,147.72 505.3,146.48 506,144.49 506.7,145.79 507.4,146.62 508.1,146.38 508.8,147.95 509.5,147.44 510.2,145.26 510.9,145.8 511.6,144.44 512.3,146.22 513,146.12 513.7,149.08 514.4,146.09 515.1,143.59 515.8,145.24 516.5,146.16 517.2,144.6 517.9,145.06 518.6,145.65 519.3,146.48 520,145.91 520.7,145.09 521.4,147.04 522.1,145.52 522.8,145.59 523.5,144.59 524.2,145.28 524.9,146.95 525.6,144.36 526.3,146.15 527,147.07 527.7,145.82 528.4,146.55 529.1,145 529.8,147.8 530.5,147.58 531.2,146.59 531.9,144.32 532.6,145.14 533.3,147.48 534,148.34 534.7,146.72 535.4,147.83 536.1,145.7 536.8,146.19 537.5,146.42 538.2,146.92 538.9,144.68 539.6,147.53 540.3,147.98 541,145.15 541.7,144.92 542.4,146.89 543.1,145.74" fill="none" stroke="#ff8000" stroke-width="2.0" stroke-linejoin="round"/>
<polyline points="316.3,183.32 317,187.02 317.7,186.31 318.4,185.63 319.1,188.64 319.8,186.41 320.5,185.41 321.2,186.43 321.9,185.14 322.6,185.49 323.3,186.83 324,185.77 324.7,185.91 325.4,188.36 326.1,187.45 326.8,187.4 327.5,187.09 328.2,187.05 328.9,188.17 329.6,186.47 330.3,188.63 331,185.4 331.7,186.19 332.4,184.89 333.1,186.07 333.8,187.05 334.5,188.11 335.2,185.66 335.9,186.4 336.6,185.96 337.3,185.5 338,184.96 338.7,186.37 339.4,184.28 340.1,186.37 340.8,186.23 341.5,185.42 342.2,184.98 342.9,184.51 343.6,188.22 344.3,184.49 345,187.79 345.7,186.65 346.4,185.49 347.1,184.53 347.8,187.01 348.5,187.74 349.2,184.62 349.9,185.28 350.6,186.76 351.3,185.86 352,187.7 352.7,184.66 353.4,185.86 354.1,183.71 354.8,187.46 355.5,184.12 356.2,182.32 356.9,184.62 357.6,184.5 358.3,186.76 359,184.06 359.7,184.33 360.4,184.91 361.1,185.93 361.8,183.91 362.5,185.05 363.2,184.31 363.9,183.22 364.6,183.5 365.3,183.28 366,182.03 366.7,184.31 367.4,181.14 368.1,183.9 368.8,183.46 369.5,182.06 370.2,181.09 370.9,181.51 371.6,182.1 372.3,182.2 373,181.46 373.7,182.05 374.4,180.05 375.1,180.73 375.8,178.41 376.5,180.85 377.2,179.88 377.9,178.96 378.6,180.49 379.3,179.66 380,175.32 380.7,178.3 381.4,176.26 382.1,178.83 382.8,180.14 383.5,176.34 384.2,176.67 384.9,175.94 385.6,176.26 386.3,176.2 387,176.53 387.7,173.5 388.4,176.03 389.1,172.75 389.8,173.76 390.5,174.42 391.2,173.57 391.9,171.35 392.6,171.31 393.3,171.27 394,171.41 394.7,172.44 395.4,169.26 396.1,170.88 396.8,170.61 397.5,170.11 398.2,169.54 398.9,170.29 399.6,168.63 400.3,168.59 401,167.78 401.7,168.72 402.4,163.99 403.1,167.16 403.8,164.88 404.5,164.32 405.2,162.96 405.9,161.31 406.6,162.38 407.3,161.37 408,162.07 408.7,159.19 409.4,161.97 410.1,160.14 410.8,159.12 411.5,158.22 412.2,157.79 412.9,157.07 413.6,157.42 414.3,157.71 415,157.11 415.7,155.26 416.4,156.1 417.1,154.87 417.8,155.59 418.5,157.12 419.2,155.37 419.9,154.1 420.6,152.56 421.3,152.93 422,152.86 422.7,155.98 423.4,154.66 424.1,156.02 424.8,155.64 425.5,156.84 426.2,158.71 426.9,156.67 427.6,157.42 428.3,157.26 429,159.57 429.7,157.78 430.4,158.08 431.1,158.23 431.8,158.67 432.5,161.3 433.2,164.17 433.9,160.5 434.6,163.14 435.3,162.7 436,161.48 436.7,162.74 437.4,163.07 438.1,162.8 438.8,166.02 439.5,161.77 440.2,164.52 440.9,164.55 441.6,163.57 442.3,164.46 443,165.34 443.7,164.53 444.4,164.84 445.1,165.12 445.8,161.91 446.5,165.8 447.2,166.51 447.9,164.76 448.6,164.5 449.3,161.39 450,162.51 450.7,161.32 451.4,161.13 452.1,162.41 452.8,159.83 453.5,160.03 454.2,157.39 454.9,158.78 455.6,158.43 456.3,156.85 457,156.15 457.7,158.44 458.4,154.18 459.1,153.68 459.8,153.29 460.5,154.97 461.2,155.39 461.9,152.76 462.6,150.97 463.3,150.72 464,151.84 464.7,148.95 465.4,151.04 466.1,150.43 466.8,148.54 467.5,149.3 468.2,150.11 468.9,152.32 469.6,151.05 470.3,155.61 471,155.94 471.7,157.63 472.4,160.72 473.1,162.33 473.8,163.3 474.5,164.34 475.2,166.7 475.9,170.95 476.6,172.93 477.3,172.75 478,174.65 478.7,173.94 479.4,175.63 480.1,177.13 480.8,176.51 481.5,177.41 482.2,179.34 482.9,179.44 483.6,179.09 484.3,181.2 485,180.85 485.7,182.68 486.4,181.83 487.1,181.79 487.8,182.55 488.5,182.45 489.2,182.09 489.9,182.59 490.6,184.09 491.3,184.13 492,185.02 492.7,181.73 493.4,183.36 494.1,183.47 494.8,184.26 495.5,183.66 496.2,183.69 496.9,185.28 497.6,184.67 498.3,183.2 499,186.14 499.7,185.82 500.4,184.06 501.1,185.73 501.8,183.97 502.5,186.15 503.2,184.64 503.9,184.01 504.6,184.54 505.3,184.12 506,185.25 506.7,185.27 507.4,185.14 508.1,184.48 508.8,180.94 509.5,185.28 510.2,183.02 510.9,185.5 511.6,186.55 512.3,185.58 513,184.84 513.7,185.11 514.4,185.18 515.1,184.72 515.8,184.7 516.5,184.33 517.2,186.78 517.9,185.42 518.6,186.56 519.3,185.19 520,185.58 520.7,185.33 521.4,186.08 522.1,186.51 522.8,185.86 523.5,184.83 524.2,184.73 524.9,187.56 525.6,185.35 526.3,185.35 527,187.39 527.7,186.98 528.4,186.36 529.1,185.31 529.8,188.49 530.5,186.26 531.2,186.45 531.9,185.64 532.6,184.23 533.3,184.34 534,186.36 534.7,186.36 535.4,185.65 536.1,184.59 536.8,184.3 537.5,185.6 538.2,184.31 538.9,187.04 539.6,187.34 540.3,189.28 541,187.06 541.7,185.38 542.4,185.07 543.1,182.11" fill="none" stroke="#8a8a8a" stroke-width="2.0" stroke-linejoin="round"/>
<line x1="420.3" y1="17.8" x2="420.3" y2="193.3" stroke="#ff0000" stroke-width="1.8" stroke-dasharray="7.5,2.3"/>
<line x1="467.0" y1="17.8" x2="467.0" y2="193.3" stroke="#ff0000" stroke-width="1.8" stroke-dasharray="7.5,2.3"/>
<text x="397.8" y="44.6" font-size="19.8" fill="#ff0000">D</text>
<text x="444.0" y="34.5" font-size="19.8" fill="#ff0000">G</text>
<rect x="315.5" y="8.0" width="228.7" height="200.7" fill="none" stroke="#000" stroke-width="2.1"/>
<line x1="334.56" y1="208.7" x2="334.56" y2="204.7" stroke="#000" stroke-width="1.5"/>
<text x="334.56" y="225.6" font-size="17" text-anchor="middle">900</text>
<line x1="391.73" y1="208.7" x2="391.73" y2="204.7" stroke="#000" stroke-width="1.5"/>
<text x="391.73" y="225.6" font-size="17" text-anchor="middle">1200</text>
<line x1="448.91" y1="208.7" x2="448.91" y2="204.7" stroke="#000" stroke-width="1.5"/>
<text x="448.91" y="225.6" font-size="17" text-anchor="middle">1500</text>
<line x1="506.08" y1="208.7" x2="506.08" y2="204.7" stroke="#000" stroke-width="1.5"/>
<text x="506.08" y="225.6" font-size="17" text-anchor="middle">1800</text>
<text x="280" y="25.5" font-size="23.5">(b)</text>
<text x="430" y="247.5" font-size="20" text-anchor="middle">Raman shift (cm<tspan font-size="12" dy="-7">-1</tspan><tspan dy="7">)</tspan></text>
<text transform="translate(302.3,116.8) rotate(-90)" font-size="19.8" text-anchor="middle">Intensity (a.u.)</text>
<text x="318.5" y="84.7" font-size="9.8">DS-Mo<tspan font-size="6.86" dy="2.45">2</tspan><tspan dy="-2.45">C/C-900</tspan></text>
<text x="318.5" y="128.3" font-size="9.8">DS-Mo<tspan font-size="6.86" dy="2.45">2</tspan><tspan dy="-2.45">C/C-800</tspan></text>
<text x="318.5" y="169.7" font-size="9.8">DS-Mo<tspan font-size="6.86" dy="2.45">2</tspan><tspan dy="-2.45">C/C-700</tspan></text>
<text transform="translate(485.3,88.5) scale(0.94,1)" x="0" y="0" font-size="13.8" fill="#009999"><tspan font-style="italic">I</tspan><tspan font-size="9" dy="1.7">D</tspan><tspan dy="-1.7" font-style="italic">/I</tspan><tspan font-size="9" dy="1.7">G</tspan><tspan dy="-1.7">=0.97</tspan></text>
<text transform="translate(485.3,132.1) scale(0.94,1)" x="0" y="0" font-size="13.8" fill="#009999"><tspan font-style="italic">I</tspan><tspan font-size="9" dy="1.7">D</tspan><tspan dy="-1.7" font-style="italic">/I</tspan><tspan font-size="9" dy="1.7">G</tspan><tspan dy="-1.7">=0.92</tspan></text>
<text transform="translate(485.3,171.6) scale(0.94,1)" x="0" y="0" font-size="13.8" fill="#009999"><tspan font-style="italic">I</tspan><tspan font-size="9" dy="1.7">D</tspan><tspan dy="-1.7" font-style="italic">/I</tspan><tspan font-size="9" dy="1.7">G</tspan><tspan dy="-1.7">=0.88</tspan></text>
</svg>
</body></html>
